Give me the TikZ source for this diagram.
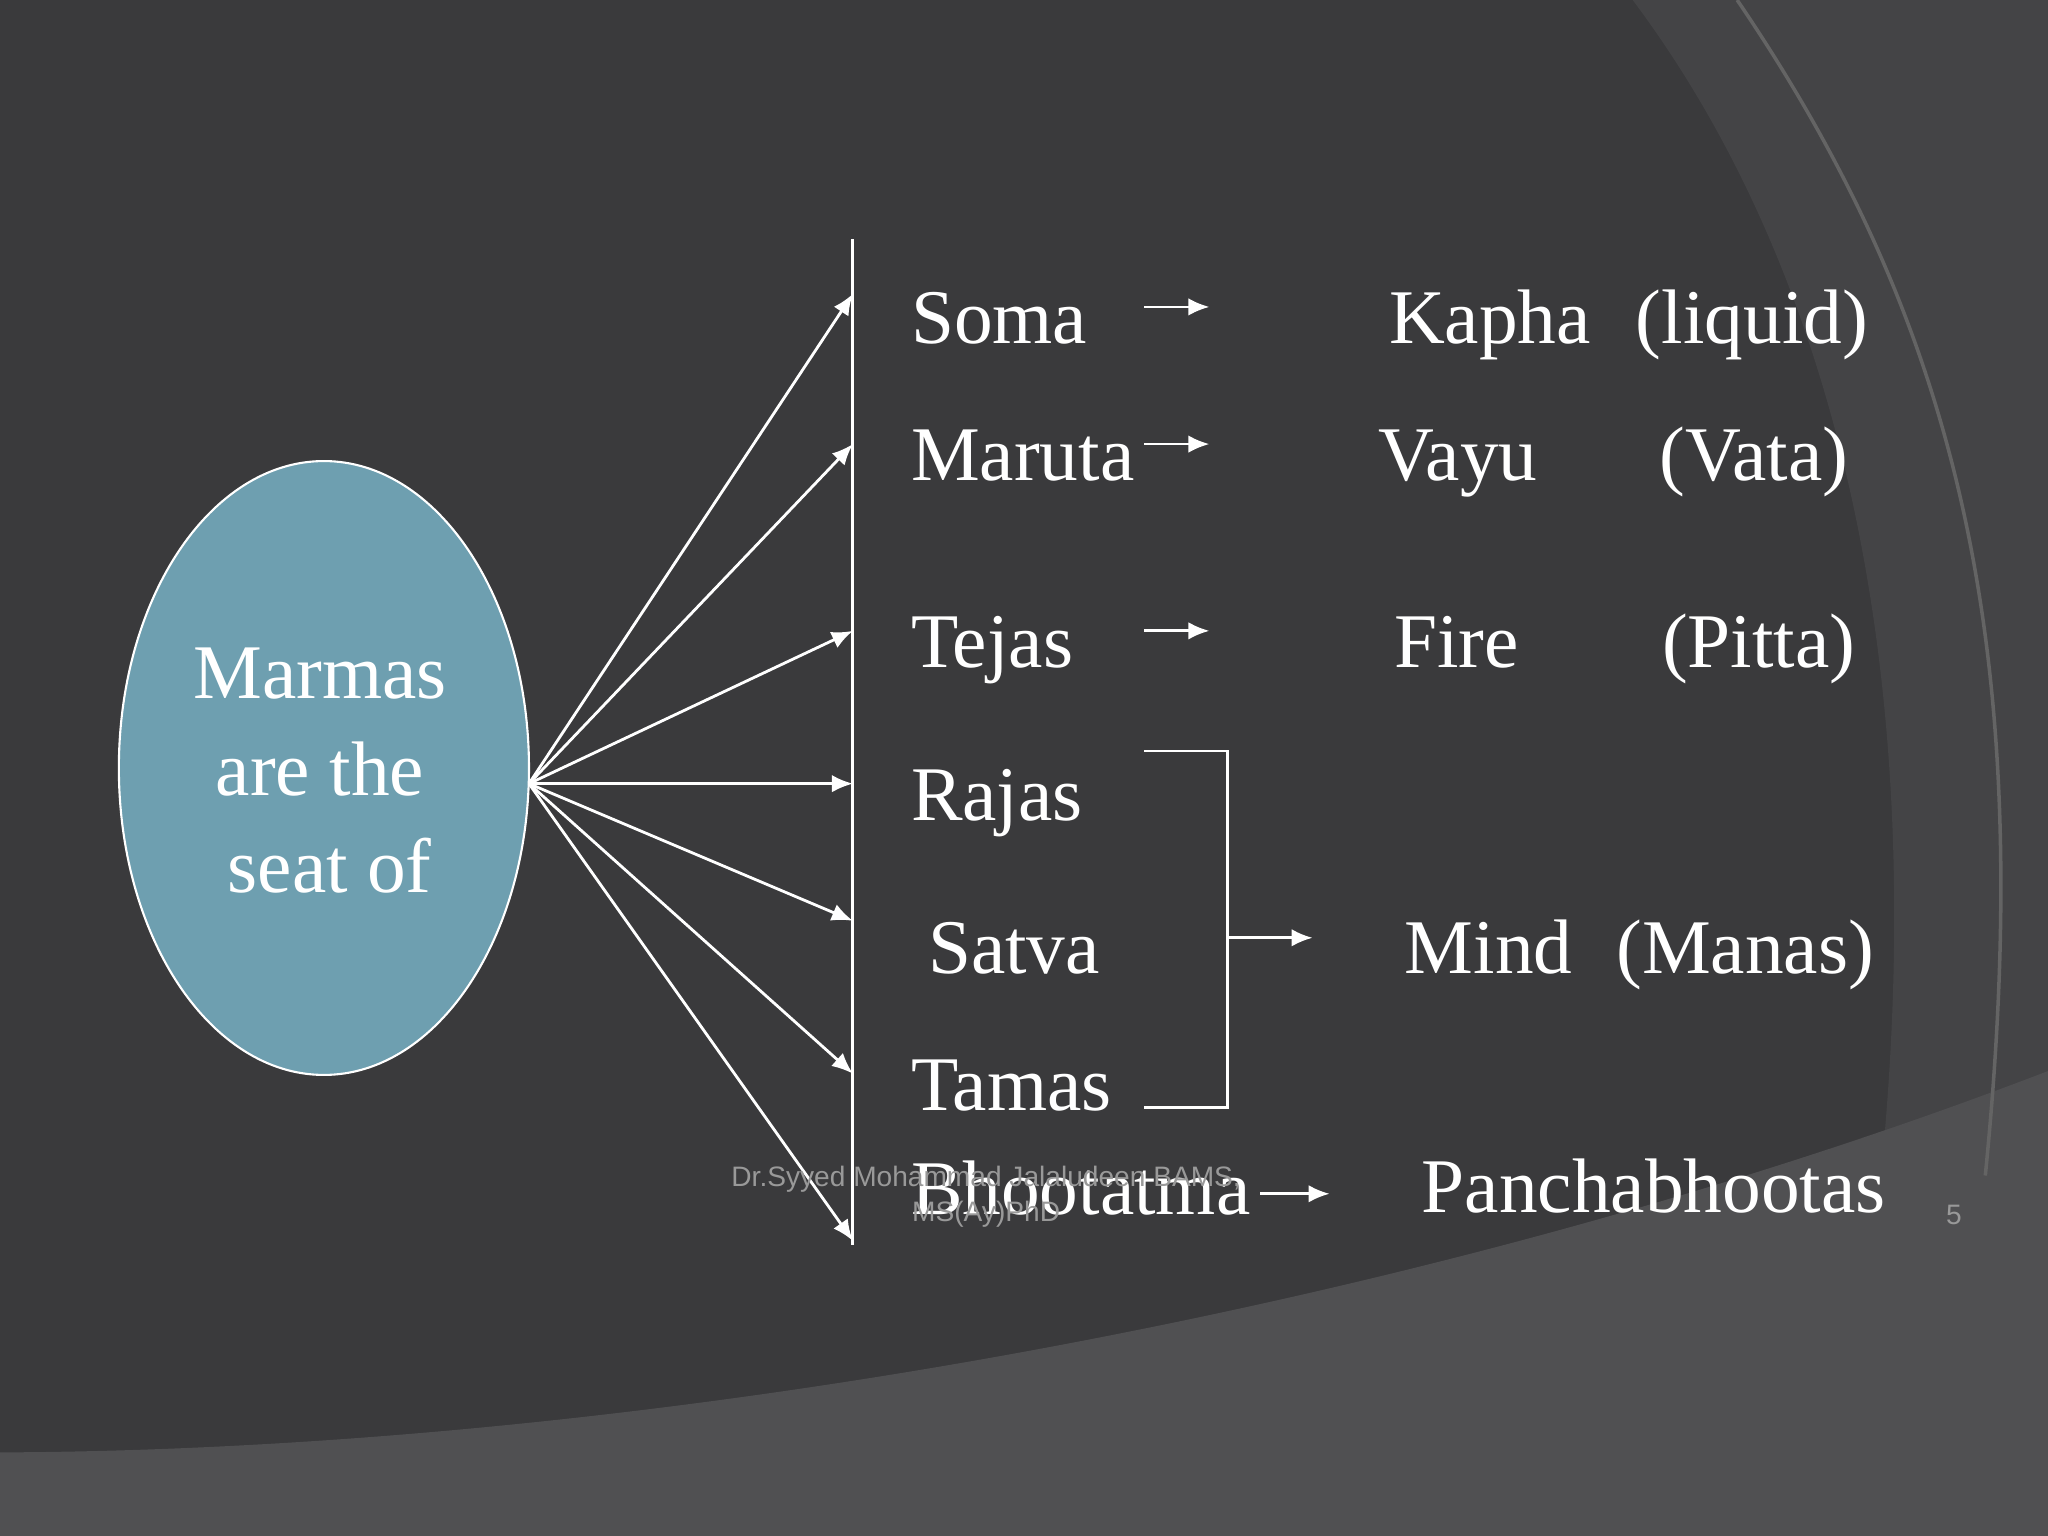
\documentclass[tikz,border=0pt]{standalone}
\usepackage{fontspec}
\setmainfont{Liberation Serif}
\setsansfont{Liberation Sans}
\usetikzlibrary{arrows.meta}
\definecolor{bg}{HTML}{3A3A3C}
\definecolor{bgl}{HTML}{444446}
\definecolor{bgb}{HTML}{505052}
\definecolor{ell}{HTML}{6E9FB0}
\tikzset{lbl/.style={anchor=base west,text=white,font=\fontsize{22}{26}\selectfont,inner sep=0pt},
arr/.style={white,line width=0.8pt,-{Latex[length=6pt,width=5pt]}}}
\begin{document}
\begin{tikzpicture}[x=0.013061cm,y=-0.013061cm]
\fill[bg] (0,0) rectangle (1568,1176);
\useasboundingbox (0,0) rectangle (1568,1176);
\fill[bgl] (1250,0) .. controls (1400,200) and (1480,500) .. (1440,900) -- (1568,900) -- (1568,0) -- cycle;
\fill[bgb] (0,1112) .. controls (500,1110) and (1100,1000) .. (1568,820) -- (1568,1176) -- (0,1176) -- cycle;
\draw[gray!60!bg,line width=1pt] (1330,0) .. controls (1500,250) and (1560,500) .. (1520,900);
\fill[ell,draw=white,line width=0.6pt] (248,588) ellipse [x radius=157,y radius=-235];
\node[text=white,font=\fontsize{22}{27.5}\selectfont,align=center] (m) at (245,590) {Marmas\\are the\\\ seat of};
\coordinate (o) at (405,600);
\draw[white,line width=0.8pt] (653,183) -- (653,953);
\foreach \y in {225,340,483,600,705,822,950}{\draw[arr] (o) -- (653,\y);}
\node[lbl] (a1) at (697,263) {Soma};
\node[lbl] (a2) at (697,368) {Maruta};
\node[lbl] (a3) at (697,511) {Tejas};
\node[lbl] (a4) at (697,628) {Rajas};
\node[lbl] (a5) at (710,745) {Satva};
\node[lbl] (a6) at (697,850) {Tamas};
\node[lbl] (a7) at (697,930) {Bhootatma};
\draw[arr] (876,235) -- (926,235);
\draw[arr] (876,340) -- (926,340);
\draw[arr] (876,483) -- (926,483);
\draw[white,line width=0.8pt] (876,575) -- (940,575) -- (940,848) -- (876,848);
\draw[arr] (940,718) -- (1005,718);
\draw[arr] (965,914) -- (1018,914);
\node[lbl] (b1) at (1063,263) {Kapha};
\node[lbl] (c1) at (1252,263) {(liquid)};
\node[lbl] (b2) at (1055,368) {Vayu};
\node[lbl] (c2) at (1270,368) {(Vata)};
\node[lbl] (b3) at (1067,511) {Fire};
\node[lbl] (c3) at (1272,511) {(Pitta)};
\node[lbl] (b5) at (1075,745) {Mind};
\node[lbl] (c5) at (1237,745) {(Manas)};
\node[lbl] (b7) at (1088,928) {Panchabhootas};
\node[text=gray!80,font=\sffamily\fontsize{8}{10}\selectfont,align=center] (f) at (755,916) {Dr.Syyed Mohammad Jalaludeen BAMS,\\MS(Ay)PhD};
\node[text=gray!80,font=\sffamily\fontsize{8}{10}\selectfont] (p) at (1496,930) {5};
\end{tikzpicture}
\end{document}
